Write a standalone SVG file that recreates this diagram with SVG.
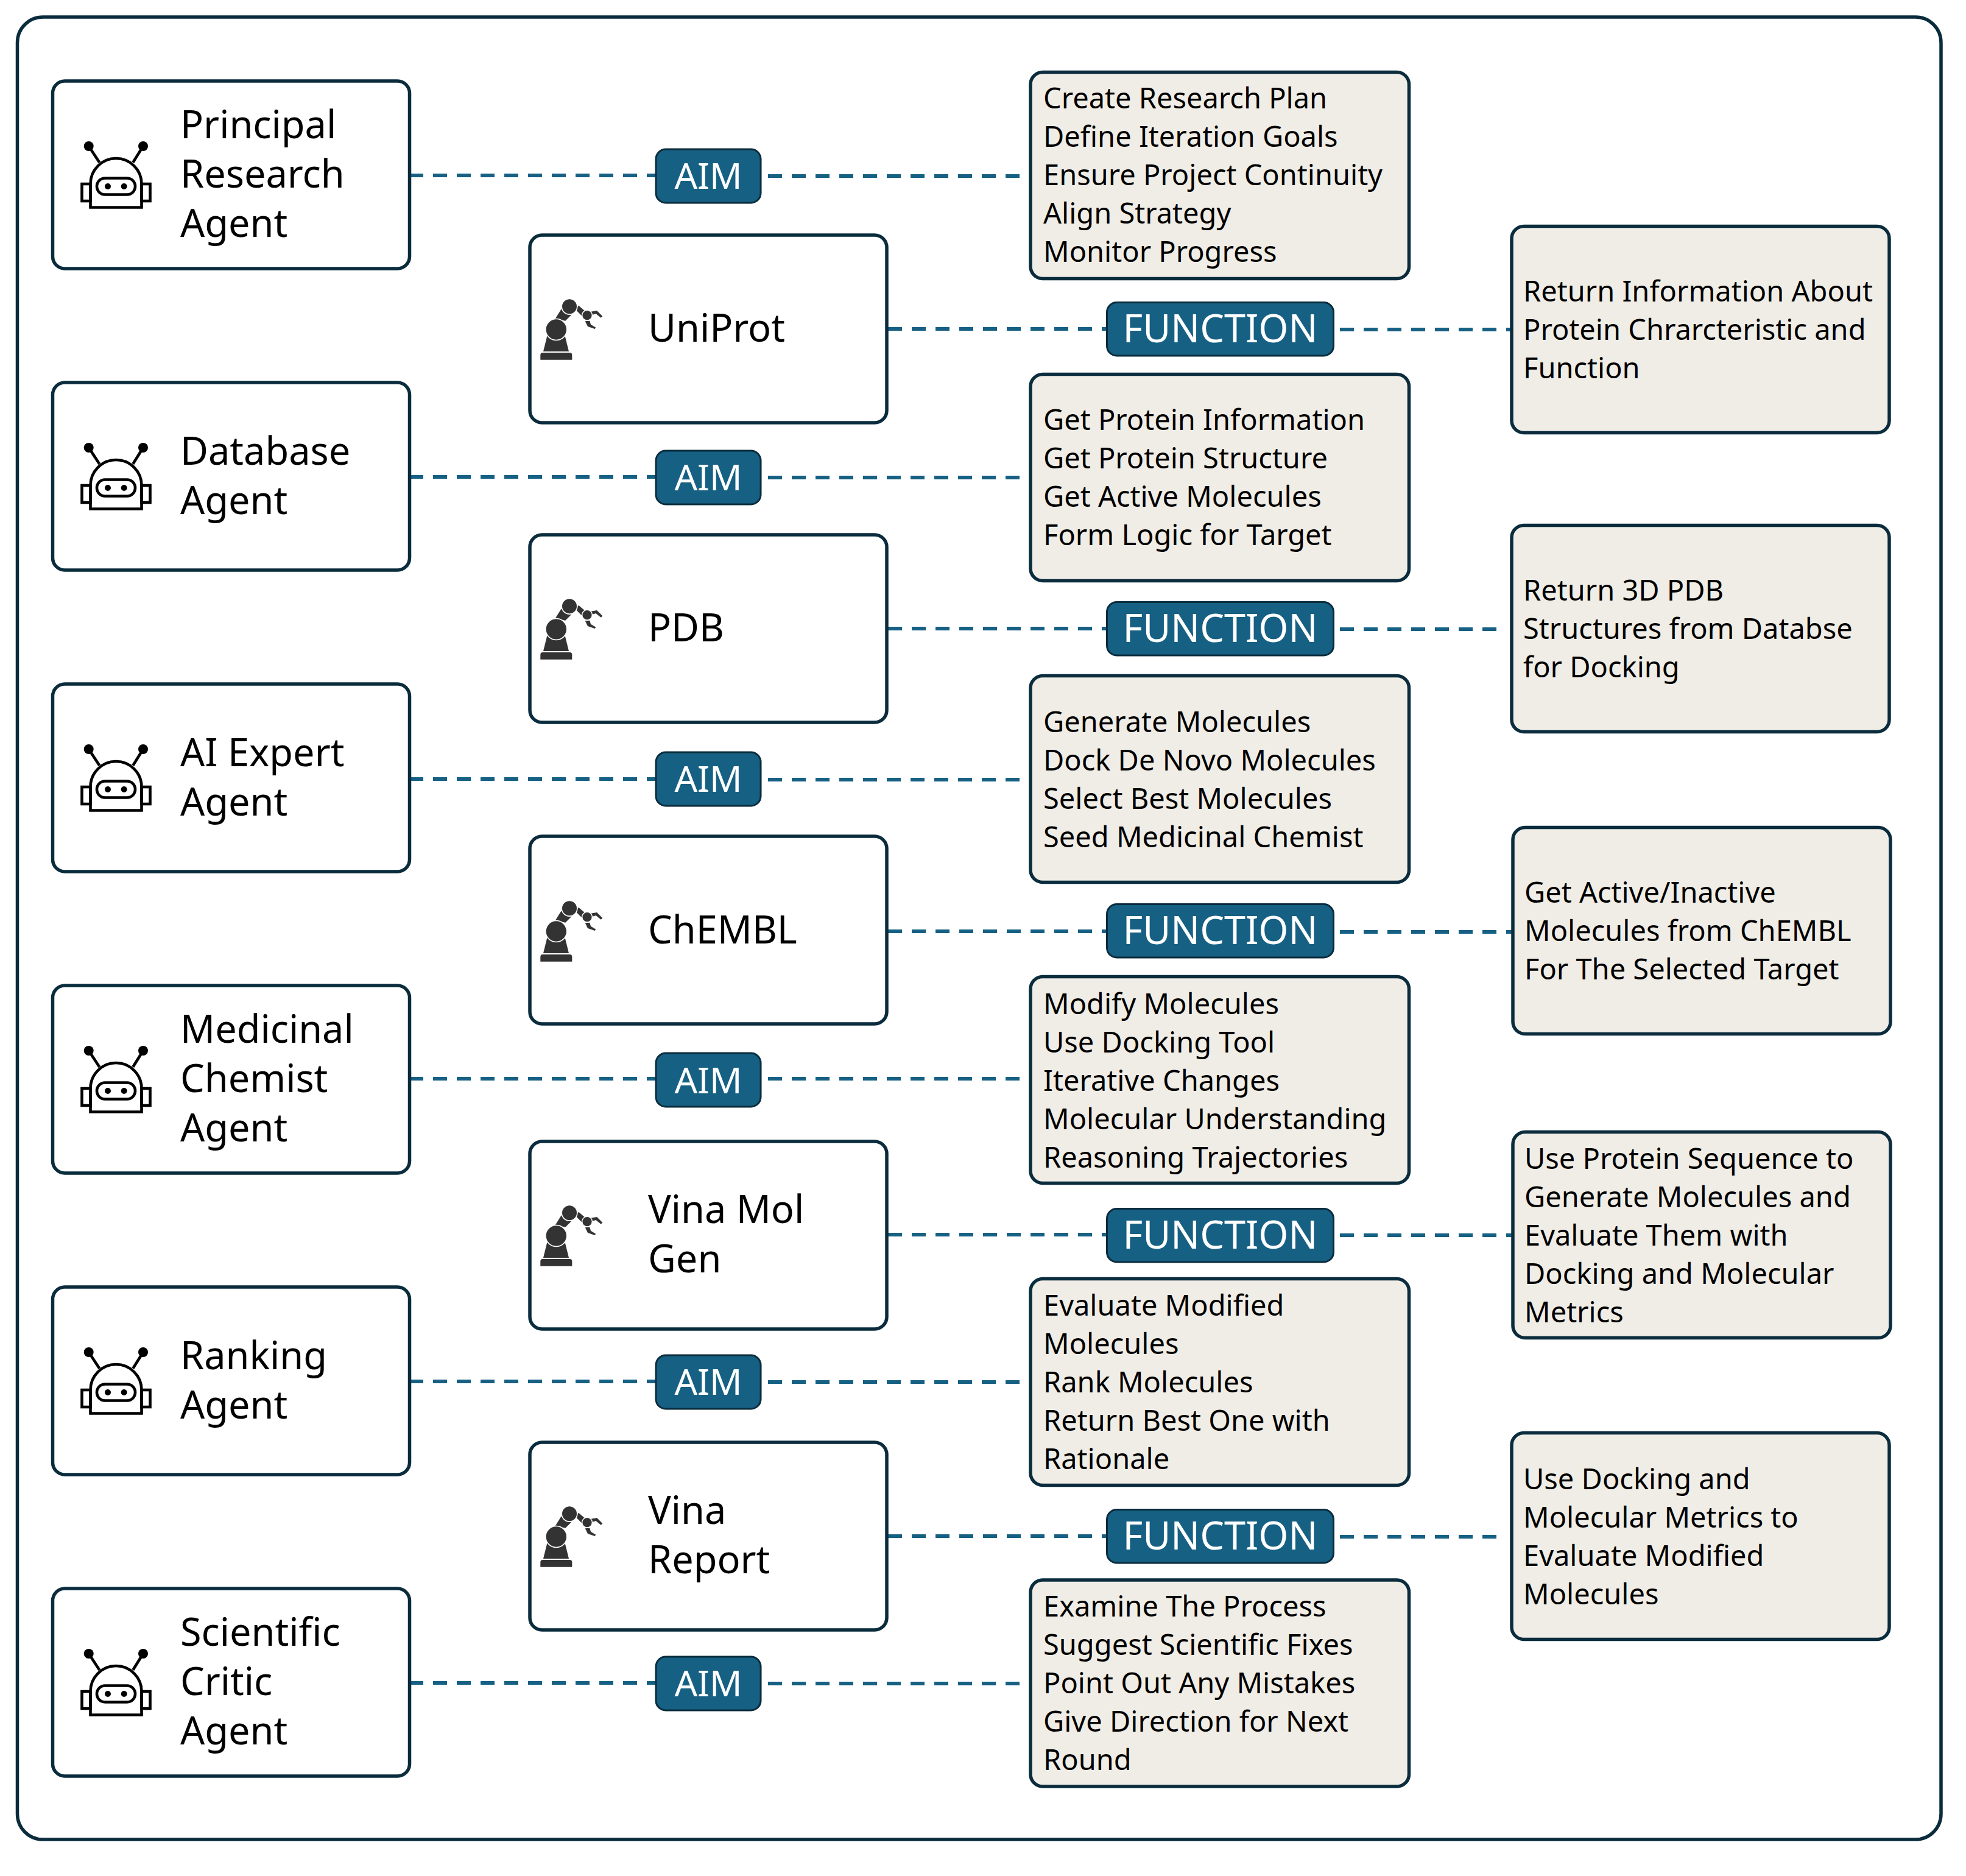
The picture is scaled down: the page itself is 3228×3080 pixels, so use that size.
<svg xmlns="http://www.w3.org/2000/svg" width="3228" height="3080" viewBox="0 0 3228 3080">
<style>
text{font-family:"Noto Sans",Roboto,sans-serif;fill:#000}
.big{font-size:63px}
.sm{font-size:47px}
.pl{fill:#fff;text-anchor:middle}
.aim{font-size:59px}
.fn{font-size:63px}
.frame{fill:#fff;stroke:#0A2C3D;stroke-width:5.5}
.box{fill:#fff;stroke:#0A2C3D;stroke-width:5.5}
.info{fill:#F0EDE6;stroke:#0A2C3D;stroke-width:5.5}
.pill{fill:#166083;stroke:#0A2C3D;stroke-width:3}
.con line{stroke:#166083;stroke-width:6;stroke-dasharray:23 16}
.rb{fill:none;stroke:#000;stroke-width:4.6}
</style>
<defs>
<g id="robot">
<path class="rb" d="M148.5 340.5V302A42 42 0 0 1 232.5 302V340.5Z"/>
<rect class="rb" x="159" y="292.5" width="63" height="27" rx="13.5"/>
<rect class="rb" x="134.5" y="302" width="14" height="28"/>
<rect class="rb" x="232.5" y="302" width="14" height="28"/>
<path class="rb" d="M163.3 266.7L145.7 240M218.3 266.7L235 240"/>
<circle cx="145.7" cy="240" r="8"/><circle cx="235" cy="240" r="8"/>
<circle cx="177" cy="306" r="5"/><circle cx="203.7" cy="306" r="5"/>
</g>
<g id="arm" fill="#333">
<path d="M17.3 120.7V113Q17.3 109 21 109H65.6Q69.3 109 69.3 113V120.700Z"/>
<path d="M22 107L30 75H56L64 107Z"/>
<path d="M41.7 53.3L51.700 37.3L68.3 46.7L58.3 56.7Z"/>
<path d="M75 38.3L80 31.7L91.7 41.7L86.7 50Z"/>
<path d="M100 41.7L110 40L119.3 49.3L116.7 51.7L108.3 45L101.7 47.3Z"/>
<path d="M90.7 57.3L98.3 56.7L100 62.7L108.3 67.7L106.7 70L95 66Z"/>
<g stroke="#fff" stroke-width="1.6">
<circle cx="43.3" cy="71" r="17.5"/>
<circle cx="65" cy="33.3" r="12.8"/>
<circle cx="94" cy="47.7" r="8.4"/>
</g>
</g>
</defs>
<rect class="frame" x="28.500" y="28" width="3158.500" height="2992" rx="42"/>
<g id="connectors" class="con">
<line x1="672" y1="288" x2="1076" y2="288"/><line x1="1261" y1="289" x2="1680" y2="289"/>
<line x1="672" y1="783" x2="1076" y2="783"/><line x1="1261" y1="784" x2="1680" y2="784"/>
<line x1="672" y1="1279" x2="1076" y2="1279"/><line x1="1261" y1="1280" x2="1680" y2="1280"/>
<line x1="672" y1="1771" x2="1076" y2="1771"/><line x1="1261" y1="1771" x2="1680" y2="1771"/>
<line x1="672" y1="2268" x2="1076" y2="2268"/><line x1="1261" y1="2269" x2="1680" y2="2269"/>
<line x1="672" y1="2763" x2="1076" y2="2763"/><line x1="1261" y1="2764" x2="1680" y2="2764"/>
<line x1="1458" y1="540" x2="1816" y2="540"/><line x1="2200" y1="541" x2="2482" y2="541"/>
<line x1="1458" y1="1032" x2="1816" y2="1032"/><line x1="2200" y1="1033" x2="2465" y2="1033"/>
<line x1="1458" y1="1529" x2="1816" y2="1529"/><line x1="2200" y1="1530" x2="2484" y2="1530"/>
<line x1="1458" y1="2027" x2="1816" y2="2027"/><line x1="2200" y1="2028" x2="2484" y2="2028"/>
<line x1="1458" y1="2522" x2="1816" y2="2522"/><line x1="2200" y1="2523" x2="2465" y2="2523"/>
</g>
<g id="agent-principal"><rect class="box" x="86.500" y="133" width="586" height="308" rx="20"/><use href="#robot"/><text class="big"><tspan x="296" y="227">Principal</tspan><tspan x="296" y="308">Research</tspan><tspan x="296" y="389">Agent</tspan></text></g>
<g id="agent-database"><rect class="box" x="86.500" y="628" width="586" height="308" rx="20"/><use href="#robot" y="495"/><text class="big"><tspan x="296" y="763">Database</tspan><tspan x="296" y="844">Agent</tspan></text></g>
<g id="agent-ai"><rect class="box" x="86.500" y="1123" width="586" height="308" rx="20"/><use href="#robot" y="990"/><text class="big"><tspan x="296" y="1258">AI Expert</tspan><tspan x="296" y="1339">Agent</tspan></text></g>
<g id="agent-medicinal"><rect class="box" x="86.500" y="1618" width="586" height="308" rx="20"/><use href="#robot" y="1485"/><text class="big"><tspan x="296" y="1712">Medicinal</tspan><tspan x="296" y="1793">Chemist</tspan><tspan x="296" y="1874">Agent</tspan></text></g>
<g id="agent-ranking"><rect class="box" x="86.500" y="2113" width="586" height="308" rx="20"/><use href="#robot" y="1980"/><text class="big"><tspan x="296" y="2248">Ranking</tspan><tspan x="296" y="2329">Agent</tspan></text></g>
<g id="agent-critic"><rect class="box" x="86.500" y="2608" width="586" height="308" rx="20"/><use href="#robot" y="2475"/><text class="big"><tspan x="296" y="2702">Scientific</tspan><tspan x="296" y="2783">Critic</tspan><tspan x="296" y="2864">Agent</tspan></text></g>
<g id="tool-uniprot"><rect class="box" x="870" y="386" width="586" height="308" rx="20"/><use href="#arm" x="870" y="470"/><text class="big" x="1064" y="561">UniProt</text></g>
<g id="tool-pdb"><rect class="box" x="870" y="878" width="586" height="308" rx="20"/><use href="#arm" x="870" y="962"/><text class="big" x="1064" y="1053">PDB</text></g>
<g id="tool-chembl"><rect class="box" x="870" y="1373" width="586" height="308" rx="20"/><use href="#arm" x="870" y="1458"/><text class="big" x="1064" y="1549">ChEMBL</text></g>
<g id="tool-vinamol"><rect class="box" x="870" y="1874" width="586" height="308" rx="20"/><use href="#arm" x="870" y="1958"/><text class="big"><tspan x="1064" y="2008">Vina Mol</tspan><tspan x="1064" y="2089">Gen</tspan></text></g>
<g id="tool-vinareport"><rect class="box" x="870" y="2368" width="586" height="308" rx="20"/><use href="#arm" x="870" y="2452"/><text class="big"><tspan x="1064" y="2502">Vina</tspan><tspan x="1064" y="2583">Report</tspan></text></g>
<g id="aim-1"><rect class="pill" x="1077" y="245" width="172" height="88" rx="16"/><text class="pl aim" x="1163" y="310">AIM</text></g>
<g id="aim-2"><rect class="pill" x="1077" y="740" width="172" height="88" rx="16"/><text class="pl aim" x="1163" y="805">AIM</text></g>
<g id="aim-3"><rect class="pill" x="1077" y="1235" width="172" height="88" rx="16"/><text class="pl aim" x="1163" y="1300">AIM</text></g>
<g id="aim-4"><rect class="pill" x="1077" y="1729" width="172" height="88" rx="16"/><text class="pl aim" x="1163" y="1795">AIM</text></g>
<g id="aim-5"><rect class="pill" x="1077" y="2225" width="172" height="88" rx="16"/><text class="pl aim" x="1163" y="2290">AIM</text></g>
<g id="aim-6"><rect class="pill" x="1077" y="2720" width="172" height="88" rx="16"/><text class="pl aim" x="1163" y="2785">AIM</text></g>
<g id="fn-1"><rect class="pill" x="1817.500" y="496.500" width="372" height="87.500" rx="16"/><text class="pl fn" x="2003.500" y="562">FUNCTION</text></g>
<g id="fn-2"><rect class="pill" x="1817.500" y="988.500" width="372" height="87.500" rx="16"/><text class="pl fn" x="2003.500" y="1054">FUNCTION</text></g>
<g id="fn-3"><rect class="pill" x="1817.500" y="1484.500" width="372" height="87.500" rx="16"/><text class="pl fn" x="2003.500" y="1550">FUNCTION</text></g>
<g id="fn-4"><rect class="pill" x="1817.500" y="1984.500" width="372" height="87.500" rx="16"/><text class="pl fn" x="2003.500" y="2050">FUNCTION</text></g>
<g id="fn-5"><rect class="pill" x="1817.500" y="2478.500" width="372" height="87.500" rx="16"/><text class="pl fn" x="2003.500" y="2544">FUNCTION</text></g>
<g id="goal-1"><rect class="info" x="1692" y="118.500" width="621.500" height="339" rx="20"/><text class="sm"><tspan x="1713" y="178">Create Research Plan</tspan><tspan x="1713" y="241">Define Iteration Goals</tspan><tspan x="1713" y="304">Ensure Project Continuity</tspan><tspan x="1713" y="367">Align Strategy</tspan><tspan x="1713" y="430">Monitor Progress</tspan></text></g>
<g id="goal-2"><rect class="info" x="1692" y="614.500" width="621.500" height="339" rx="20"/><text class="sm"><tspan x="1713" y="706">Get Protein Information</tspan><tspan x="1713" y="769">Get Protein Structure</tspan><tspan x="1713" y="832">Get Active Molecules</tspan><tspan x="1713" y="895">Form Logic for Target</tspan></text></g>
<g id="goal-3"><rect class="info" x="1692" y="1109.500" width="621.500" height="339" rx="20"/><text class="sm"><tspan x="1713" y="1202">Generate Molecules</tspan><tspan x="1713" y="1265">Dock De Novo Molecules</tspan><tspan x="1713" y="1328">Select Best Molecules</tspan><tspan x="1713" y="1391">Seed Medicinal Chemist</tspan></text></g>
<g id="goal-4"><rect class="info" x="1692" y="1603.500" width="621.500" height="339" rx="20"/><text class="sm"><tspan x="1713" y="1665">Modify Molecules</tspan><tspan x="1713" y="1728">Use Docking Tool</tspan><tspan x="1713" y="1791">Iterative Changes</tspan><tspan x="1713" y="1854">Molecular Understanding</tspan><tspan x="1713" y="1917">Reasoning Trajectories</tspan></text></g>
<g id="goal-5"><rect class="info" x="1692" y="2099.500" width="621.500" height="339" rx="20"/><text class="sm"><tspan x="1713" y="2160">Evaluate Modified</tspan><tspan x="1713" y="2223">Molecules</tspan><tspan x="1713" y="2286">Rank Molecules</tspan><tspan x="1713" y="2349">Return Best One with</tspan><tspan x="1713" y="2412">Rationale</tspan></text></g>
<g id="goal-6"><rect class="info" x="1692" y="2594" width="621.500" height="339" rx="20"/><text class="sm"><tspan x="1713" y="2654">Examine The Process</tspan><tspan x="1713" y="2717">Suggest Scientific Fixes</tspan><tspan x="1713" y="2780">Point Out Any Mistakes</tspan><tspan x="1713" y="2843">Give Direction for Next</tspan><tspan x="1713" y="2906">Round</tspan></text></g>
<g id="does-1"><rect class="info" x="2482" y="371.500" width="620" height="339" rx="20"/><text class="sm"><tspan x="2501" y="495">Return Information About</tspan><tspan x="2501" y="558">Protein Chrarcteristic and</tspan><tspan x="2501" y="621">Function</tspan></text></g>
<g id="does-2"><rect class="info" x="2482" y="862.500" width="620" height="339" rx="20"/><text class="sm"><tspan x="2501" y="986">Return 3D PDB</tspan><tspan x="2501" y="1049">Structures from Databse</tspan><tspan x="2501" y="1112">for Docking</tspan></text></g>
<g id="does-3"><rect class="info" x="2484" y="1358.500" width="620" height="339" rx="20"/><text class="sm"><tspan x="2503" y="1482">Get Active/Inactive</tspan><tspan x="2503" y="1545">Molecules from ChEMBL</tspan><tspan x="2503" y="1608">For The Selected Target</tspan></text></g>
<g id="does-4"><rect class="info" x="2484" y="1858.500" width="620" height="338" rx="20"/><text class="sm"><tspan x="2503" y="1919">Use Protein Sequence to</tspan><tspan x="2503" y="1982">Generate Molecules and</tspan><tspan x="2503" y="2045">Evaluate Them with</tspan><tspan x="2503" y="2108">Docking and Molecular</tspan><tspan x="2503" y="2171">Metrics</tspan></text></g>
<g id="does-5"><rect class="info" x="2482" y="2352.500" width="620" height="339" rx="20"/><text class="sm"><tspan x="2501" y="2444.500">Use Docking and</tspan><tspan x="2501" y="2507.500">Molecular Metrics to</tspan><tspan x="2501" y="2570.500">Evaluate Modified</tspan><tspan x="2501" y="2633.500">Molecules</tspan></text></g>
</svg>
